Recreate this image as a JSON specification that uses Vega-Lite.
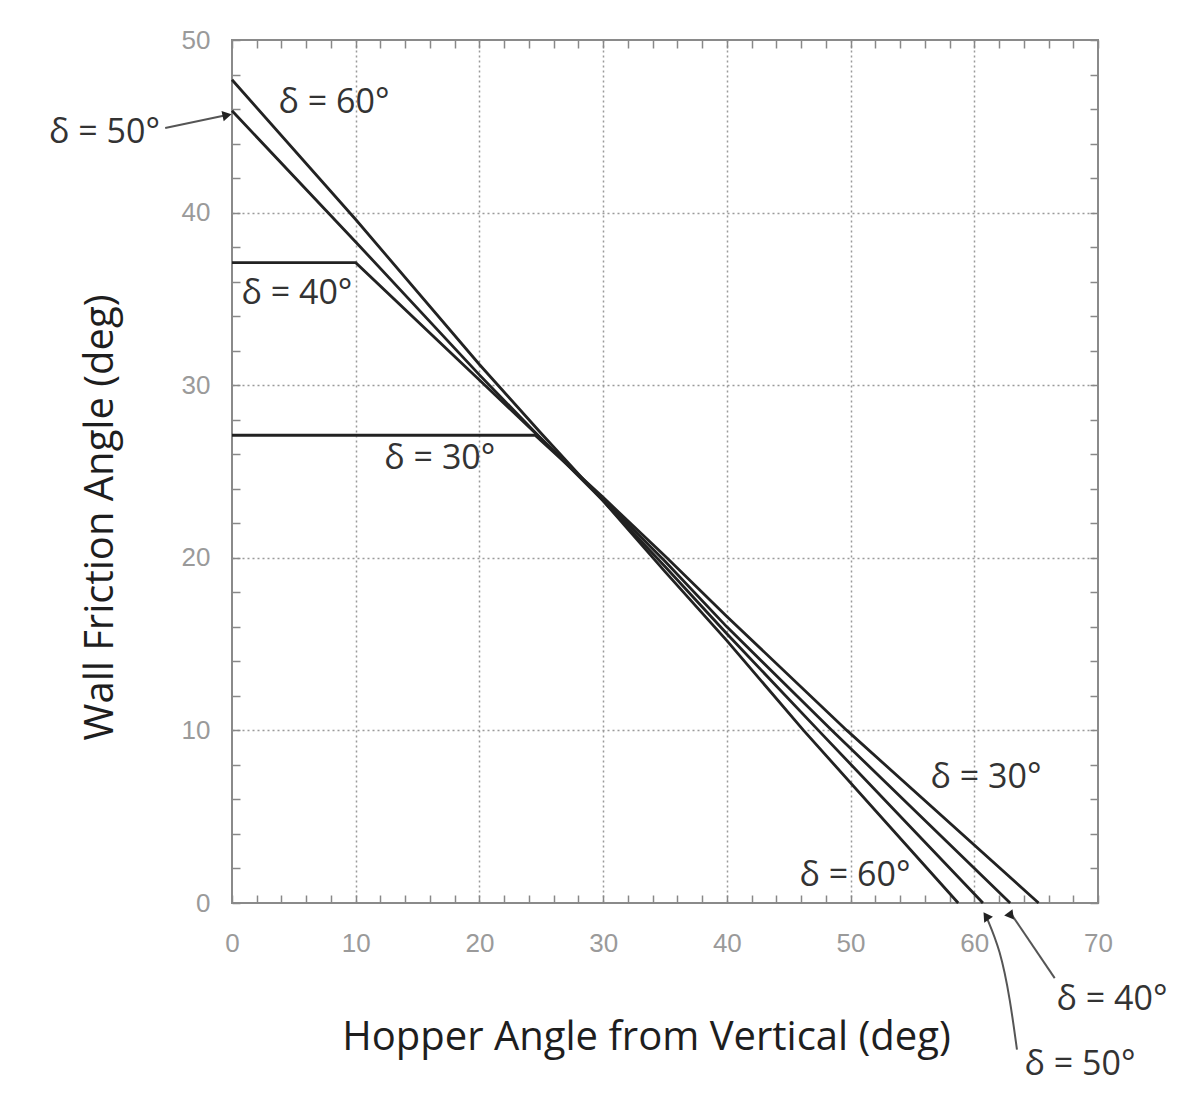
{
  "$schema": "https://vega.github.io/schema/vega-lite/v6.json",
  "autosize": {"type": "none"},
  "padding": {"left": 232, "top": 40, "right": 102, "bottom": 201},
  "width": 866,
  "height": 863,
  "background": "white",
  "config": {
    "view": {"stroke": "#8a8a8a", "strokeWidth": 2},
    "axis": {
      "domain": false,
      "tickColor": "#888",
      "tickSize": -8,
      "tickWidth": 1.5,
      "tickCount": 100,
      "format": "d",
      "labelFont": "Liberation Sans",
      "labelFontSize": 26,
      "labelColor": "#9a9a9a",
      "labelOverlap": false,
      "labelFlush": false,
      "titleFont": "Open Sans",
      "titleFontWeight": "normal",
      "titleColor": "#1e1e1e",
      "titleFontSize": 40,
      "gridColor": "#9a9a9a",
      "gridDash": [2, 3],
      "gridWidth": 1.5
    },
    "text": {"font": "Open Sans", "fontSize": 34, "color": "#333"}
  },
  "datasets": {
    "curves": [
      {"delta": "60", "x": 0, "y": 47.7},
      {"delta": "60", "x": 10, "y": 39.6},
      {"delta": "60", "x": 20, "y": 31.2},
      {"delta": "60", "x": 25, "y": 27.2},
      {"delta": "60", "x": 30, "y": 23.3},
      {"delta": "60", "x": 35, "y": 19.2},
      {"delta": "60", "x": 40, "y": 15.2},
      {"delta": "60", "x": 46.2, "y": 10},
      {"delta": "60", "x": 58.7, "y": 0},
      {"delta": "50", "x": 0, "y": 45.9},
      {"delta": "50", "x": 10, "y": 38.3},
      {"delta": "50", "x": 20, "y": 30.6},
      {"delta": "50", "x": 25, "y": 26.9},
      {"delta": "50", "x": 30, "y": 23.3},
      {"delta": "50", "x": 35, "y": 19.5},
      {"delta": "50", "x": 40, "y": 15.6},
      {"delta": "50", "x": 47.4, "y": 10},
      {"delta": "50", "x": 60.7, "y": 0},
      {"delta": "40", "x": 0, "y": 37.1},
      {"delta": "40", "x": 10, "y": 37.1},
      {"delta": "40", "x": 20, "y": 30.3},
      {"delta": "40", "x": 25, "y": 26.9},
      {"delta": "40", "x": 30, "y": 23.4},
      {"delta": "40", "x": 35, "y": 19.8},
      {"delta": "40", "x": 40, "y": 16.0},
      {"delta": "40", "x": 48.5, "y": 10},
      {"delta": "40", "x": 62.9, "y": 0},
      {"delta": "30", "x": 0, "y": 27.1},
      {"delta": "30", "x": 24.5, "y": 27.1},
      {"delta": "30", "x": 30, "y": 23.5},
      {"delta": "30", "x": 35, "y": 20.1},
      {"delta": "30", "x": 40, "y": 16.6},
      {"delta": "30", "x": 49.7, "y": 10},
      {"delta": "30", "x": 65.2, "y": 0}
    ],
    "labels": [
      {"text": "δ = 60°", "x": 8.25, "y": 46.35},
      {"text": "δ = 50°", "x": -10.3, "y": 44.6},
      {"text": "δ = 40°", "x": 5.25, "y": 35.3},
      {"text": "δ = 30°", "x": 16.8, "y": 25.7},
      {"text": "δ = 30°", "x": 60.95, "y": 7.24},
      {"text": "δ = 60°", "x": 50.36, "y": 1.56},
      {"text": "δ = 40°", "x": 71.13, "y": -5.62},
      {"text": "δ = 50°", "x": 68.55, "y": -9.39}
    ],
    "arrows": [
      {"arrow": "a50top", "order": 1, "x": -5.4, "y": 44.9},
      {"arrow": "a50top", "order": 2, "x": -0.4, "y": 45.65},
      {"arrow": "a40", "order": 1, "x": 66.5, "y": -4.35},
      {"arrow": "a40", "order": 2, "x": 62.95, "y": -0.6},
      {"arrow": "a50", "order": 1, "x": 63.45, "y": -8.5},
      {"arrow": "a50", "order": 2, "x": 62.9, "y": -5.6},
      {"arrow": "a50", "order": 3, "x": 62.1, "y": -2.7},
      {"arrow": "a50", "order": 4, "x": 60.95, "y": -0.75}
    ],
    "heads": [
      {"arrow": "a50top", "x": -0.4, "y": 45.65},
      {"arrow": "a40", "x": 62.95, "y": -0.6},
      {"arrow": "a50", "x": 60.95, "y": -0.75}
    ]
  },
  "layer": [
    {
      "layer": [
        {
          "data": {"name": "curves"},
          "mark": {"type": "line", "color": "#222", "strokeWidth": 2.8},
          "encoding": {
            "x": {
              "field": "x",
              "type": "quantitative",
              "scale": {"domain": [0, 70], "nice": false, "zero": false},
              "axis": {
                "orient": "bottom",
                "values": [0, 2, 4, 6, 8, 10, 12, 14, 16, 18, 20, 22, 24, 26, 28, 30, 32, 34, 36, 38, 40, 42, 44, 46, 48, 50, 52, 54, 56, 58, 60, 62, 64, 66, 68, 70],
                "labelExpr": "datum.value % 10 == 0 ? datum.label : ''",
                "labelPadding": 35,
                "labelBaseline": "top",
                "gridOpacity": {"condition": {"test": "datum.value % 10 == 0 && datum.value > 0 && datum.value < 70", "value": 1}, "value": 0},
                "title": "Hopper Angle from Vertical (deg)",
                "titleX": 414,
                "titleY": 134,
                "titleBaseline": "middle",
                "titleAlign": "center"
              }
            },
            "y": {
              "field": "y",
              "type": "quantitative",
              "scale": {"domain": [0, 50], "nice": false, "zero": false},
              "axis": {
                "orient": "left",
                "values": [0, 2, 4, 6, 8, 10, 12, 14, 16, 18, 20, 22, 24, 26, 28, 30, 32, 34, 36, 38, 40, 42, 44, 46, 48, 50],
                "labelExpr": "datum.value % 10 == 0 ? datum.label : ''",
                "labelPadding": 30,
                "gridOpacity": {"condition": {"test": "datum.value % 10 == 0 && datum.value > 0 && datum.value < 50", "value": 1}, "value": 0},
                "title": "Wall Friction Angle (deg)",
                "titleAngle": -90,
                "titleX": -132,
                "titleY": 477,
                "titleBaseline": "middle",
                "titleAlign": "center"
              }
            },
            "detail": {"field": "delta", "type": "nominal"}
          }
        },
        {
          "data": {"name": "arrows"},
          "mark": {"type": "line", "color": "#555", "strokeWidth": 2, "interpolate": "basis"},
          "encoding": {
            "x": {"field": "x", "type": "quantitative"},
            "y": {"field": "y", "type": "quantitative"},
            "detail": {"field": "arrow", "type": "nominal"},
            "order": {"field": "order", "type": "quantitative"}
          }
        },
        {
          "data": {"name": "heads"},
          "mark": {"type": "point", "shape": "triangle-up", "filled": true, "color": "#222", "size": 110, "opacity": 1},
          "encoding": {
            "x": {"field": "x", "type": "quantitative"},
            "y": {"field": "y", "type": "quantitative"},
            "angle": {
              "field": "arrow",
              "type": "nominal",
              "scale": {"domain": ["a50top", "a40", "a50"], "range": [78, -34, -23]},
              "legend": null
            }
          }
        },
        {
          "data": {"name": "labels"},
          "mark": {"type": "text", "align": "center", "baseline": "middle"},
          "encoding": {
            "x": {"field": "x", "type": "quantitative"},
            "y": {"field": "y", "type": "quantitative"},
            "text": {"field": "text", "type": "nominal"}
          }
        }
      ]
    },
    {
      "data": {"name": "curves"},
      "mark": {"type": "point", "opacity": 0},
      "encoding": {
        "x": {
          "field": "x",
          "type": "quantitative",
          "axis": {
            "orient": "top",
            "values": [0, 2, 4, 6, 8, 10, 12, 14, 16, 18, 20, 22, 24, 26, 28, 30, 32, 34, 36, 38, 40, 42, 44, 46, 48, 50, 52, 54, 56, 58, 60, 62, 64, 66, 68, 70],
            "labels": false,
            "grid": false,
            "title": null
          }
        },
        "y": {
          "field": "y",
          "type": "quantitative",
          "axis": {
            "orient": "right",
            "values": [0, 2, 4, 6, 8, 10, 12, 14, 16, 18, 20, 22, 24, 26, 28, 30, 32, 34, 36, 38, 40, 42, 44, 46, 48, 50],
            "labels": false,
            "grid": false,
            "title": null
          }
        }
      }
    }
  ],
  "resolve": {"axis": {"x": "independent", "y": "independent"}}
}
